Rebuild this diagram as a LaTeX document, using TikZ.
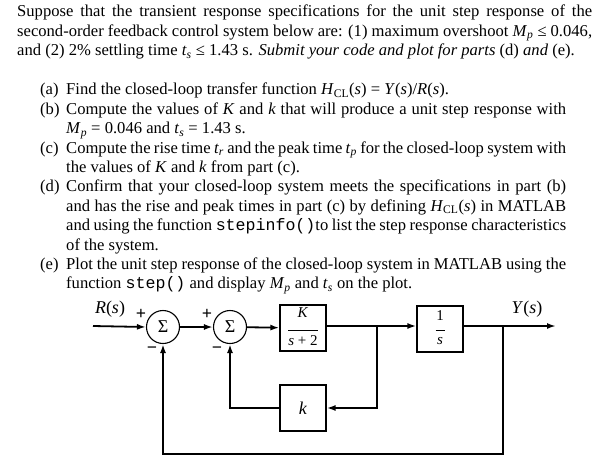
\documentclass[tikz,border=0pt]{standalone}
\usepackage{fontspec}
\setmainfont{Liberation Serif}
\setmonofont{Liberation Mono}
\usetikzlibrary{arrows.meta}
\newcommand\vi[1]{\textit{#1}}
\newcommand\sbi[1]{\textsubscript{\textit{#1}}}
\newcommand\Hcl{\vi{H}\textsubscript{CL}(\vi{s})}
\begin{document}
\begin{tikzpicture}[x=1pt,y=-1pt,
  txt/.style={anchor=north west,inner sep=0pt,align=justify,font=\fontsize{16.6}{19.4}\selectfont},
  blk/.style={draw,line width=1.2pt,minimum width=46pt,minimum height=46pt,inner sep=0pt,font=\fontsize{15}{16}\selectfont},
  sumn/.style={draw,circle,line width=1.1pt,minimum size=33pt,inner sep=0pt,font=\fontsize{18}{18}\selectfont},
  sig/.style={line width=1.8pt,-{Latex[length=9pt,width=6pt]}},
  lab/.style={font=\fontsize{18}{18}\selectfont,inner sep=0pt},
  sgn/.style={inner sep=0pt,font=\fontsize{18}{18}\selectfont\bfseries}]
\useasboundingbox (0,0) rectangle (605,475);
\node[txt,text width=575pt] (intro) at (17,5) {Suppose that the transient response specifications for the unit step response of the second-order feedback control system below are: (1) maximum overshoot \vi{M}\sbi{p} ≤ 0.046, and (2) 2\% settling time \vi{t}\sbi{s} ≤ 1.43 s. \textit{Submit your code and plot for parts} (d) \textit{and} (e).};
\node[txt,text width=526pt] (items) at (40,83) {%
\hangindent=26pt\hangafter=1\makebox[26pt][l]{(a)}Find the closed-loop transfer function \Hcl\ = \vi{Y}(\vi{s})/\vi{R}(\vi{s}).\par
\hangindent=26pt\hangafter=1\makebox[26pt][l]{(b)}Compute the values of \vi{K} and \vi{k} that will produce a unit step response with \vi{M}\sbi{p} = 0.046 and \vi{t}\sbi{s} = 1.43 s.\par
\hangindent=26pt\hangafter=1\makebox[26pt][l]{(c)}Compute the rise time \vi{t}\sbi{r} and the peak time \vi{t}\sbi{p} for the closed-loop system with the values of \vi{K} and \vi{k} from part (c).\par
\hangindent=26pt\hangafter=1\makebox[26pt][l]{(d)}Confirm that your closed-loop system meets the specifications in part (b) and has the rise and peak times in part (c) by defining \Hcl\ in MATLAB and using the function \texttt{stepinfo()}to list the step response characteristics of the system.\par
\hangindent=26pt\hangafter=1\makebox[26pt][l]{(e)}Plot the unit step response of the closed-loop system in MATLAB using the function \texttt{step()} and display \vi{M}\sbi{p} and \vi{t}\sbi{s} on the plot.\par}; 
\node[sumn] (s1) at (163,327) {Σ};
\node[sumn] (s2) at (230,327) {Σ};
\node[blk] (G) at (303,328) {\begin{tabular}{@{}c@{}}\vi{K}\\[-3pt]\rule{30pt}{0.5pt}\\[-1pt]\vi{s} + 2\end{tabular}};
\node[blk] (I) at (440,329) {\begin{tabular}{@{}c@{}}1\\[-6pt]\rule{9pt}{0.5pt}\\[-2pt]\vi{s}\end{tabular}};
\node[blk] (k) at (303,408) {\fontsize{18}{18}\selectfont\vi{k}};
\coordinate (in) at (93,326);
\coordinate (out) at (556,326);
\coordinate (b1) at (377,326);
\coordinate (b2) at (503,326);
\node[lab,anchor=south] (R) at (110,318) {\vi{R}(\vi{s})};
\node[lab,anchor=south] (Y) at (527,318) {\vi{Y}(\vi{s})};
\node[sgn] (p1) at (141,314) {+};
\node[sgn] (m1) at (152,350) {−};
\node[sgn] (p2) at (207,314) {+};
\node[sgn] (m2) at (217,350) {−};
\draw[sig] (in) -- (s1.west);
\draw[sig] (s1) -- (s2);
\draw[sig] (s2) -- (G);
\draw[sig] (G.east |- b1) -- (I.west |- b1);
\draw[sig] (I.east |- b2) -- (out);
\draw[sig] (b1) |- (k.east);
\draw[sig] (k.west) -| (s2.south);
\draw[sig] (b2) |- (163,454) -- (s1.south);
\end{tikzpicture}
\end{document}
